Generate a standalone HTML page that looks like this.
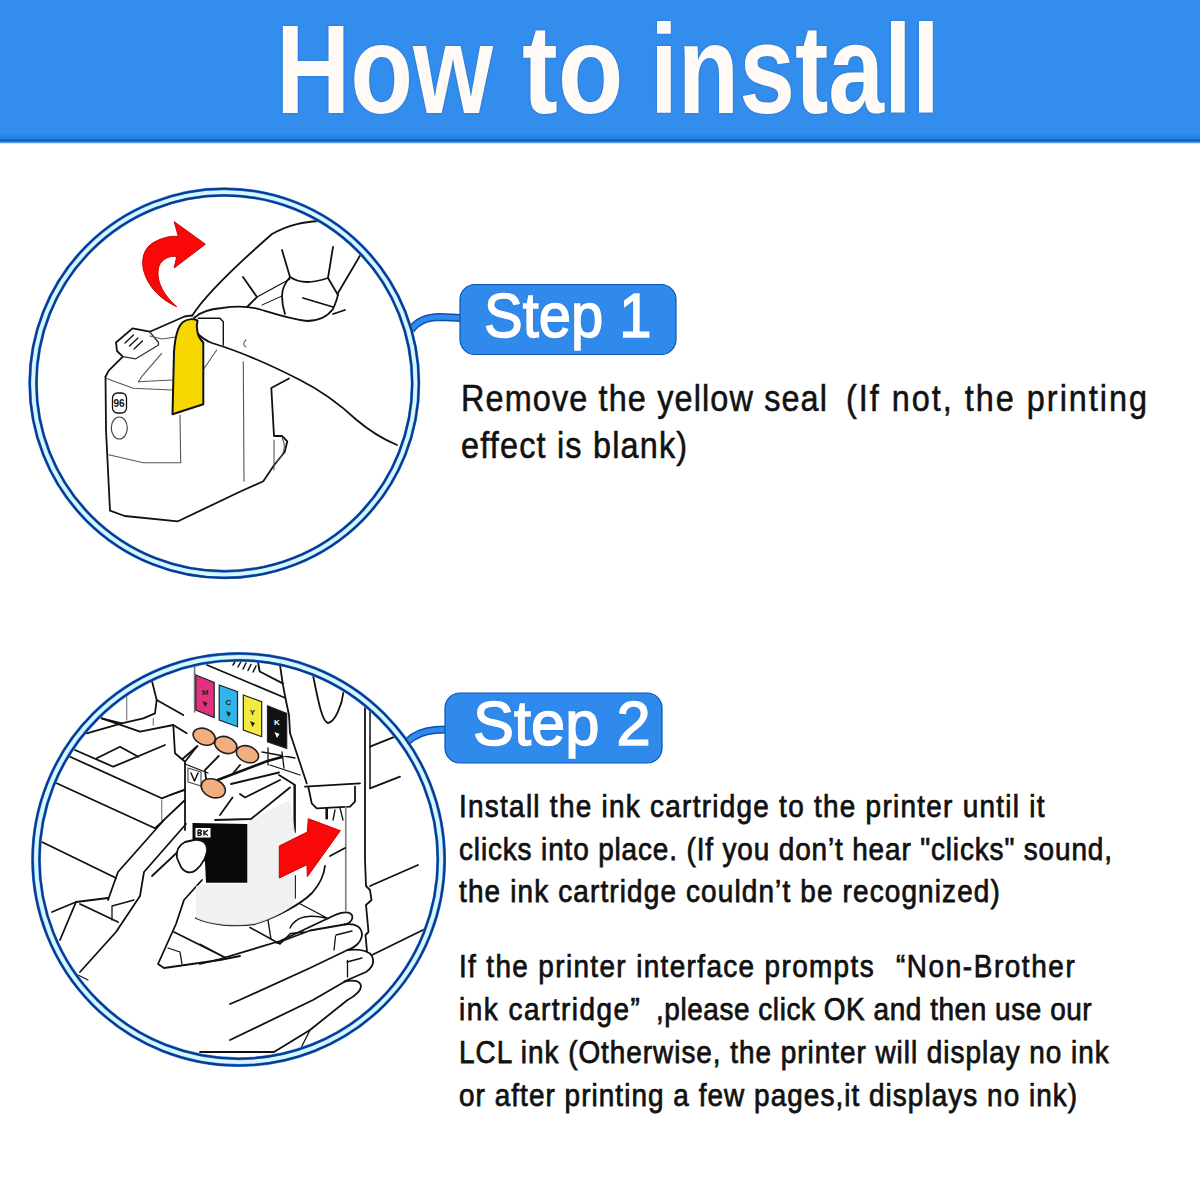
<!DOCTYPE html>
<html><head><meta charset="utf-8">
<style>
html,body{margin:0;padding:0;background:#fff;}
body{width:1200px;height:1200px;position:relative;overflow:hidden;font-family:"Liberation Sans",sans-serif;}
.hdr{position:absolute;left:0;top:0;width:1200px;height:144px;background:linear-gradient(to bottom,#338dec 0px,#338dec 133px,#2686ea 136px,#2282e6 138.5px,#0a62bc 140px,#0a62bc 141px,#5aa4ee 142.5px,#c8e6fc 143.5px,#fff 144px);}
.t{position:absolute;white-space:pre;line-height:normal;transform-origin:0 0;}
.title{color:#fffaf5;font-weight:bold;font-size:126px;text-shadow:0 0 2px rgba(10,70,160,0.6);}
.badge{color:#fff;font-weight:normal;font-size:63px;-webkit-text-stroke:1.6px #fff;text-shadow:0 0 1.5px #0a3f9a,0 0 1px #0a3f9a;}
.p1{color:#111;font-size:36px;-webkit-text-stroke:0.55px #111;}
.p2{color:#111;font-size:31px;-webkit-text-stroke:0.75px #111;}
svg{position:absolute;left:0;top:0;}
</style></head>
<body>
<div class="hdr"></div>
<svg width="1200" height="1200" viewBox="0 0 1200 1200">
  <!-- connectors -->
  <path d="M411,330 C418,320 428,317 440,317 L462,318" fill="none" stroke="#0b4fb0" stroke-width="8"/>
  <path d="M411,330 C418,320 428,317 440,317 L462,318" fill="none" stroke="#2f8aec" stroke-width="5"/>
  <path d="M407,742 C414,735 424,731 435,730 L447,729.5" fill="none" stroke="#0b4fb0" stroke-width="8"/>
  <path d="M407,742 C414,735 424,731 435,730 L447,729.5" fill="none" stroke="#2f8aec" stroke-width="5"/>
  <!-- badges -->
  <rect x="460" y="284.5" width="216" height="70" rx="15" fill="#2f8aec" stroke="#0b54b8" stroke-width="1.2"/>
  <rect x="445" y="693" width="217" height="70" rx="15" fill="#2f8aec" stroke="#0b54b8" stroke-width="1.2"/>
  <defs><clipPath id="c1"><circle cx="224.3" cy="383.3" r="188"/></clipPath><clipPath id="c2"><circle cx="238.6" cy="859.5" r="199.2"/></clipPath></defs>
  <g clip-path="url(#c1)">
  <!-- illustration 1 -->
  <g fill="none" stroke="#111" stroke-width="1.8" stroke-linejoin="round" stroke-linecap="round">
    <!-- hand top outline -->
    <path d="M192,316 C205,295 240,262 272,234 C290,224 305,222 319,221"/>
    <!-- finger lower outline -->
    <path d="M194,318 C200,312 210,309 222,308 C235,306 250,306 262,310 C275,314 290,319 307,321 C318,321 327,317 333,309 C337,300 338,296 338,293 L361,254"/>
    <!-- knuckle -->
    <path d="M282,250 L290,277 C296,281 302,282 307,282 C316,282 322,280 328,278 L333,247"/>
    <path d="M328,278 L338,295"/>
    <path d="M290,277 C284,284 282,290 282,296 C282,303 283,308 285,314"/>
    <path d="M303,298 L333,307"/>
    <path d="M333,314 L345,310"/>
    <path d="M243,277 L257,297 L247,307"/>
    <path d="M257,297 L290,279" stroke-width="1.2"/>
    <path d="M262,305 L282,296" stroke-width="1"/>
    <!-- cartridge top -->
    <path d="M105.4,377 L108.7,370.7 L122.8,356.6 L117,351 L116,342.5 L132.5,328.4 L149.8,331.7 L184.5,316.5 L192,315.4"/>
    <path d="M105.5,377 L106,430 L110,510.7 L124.7,516 L178,521.3 L239.3,492 L263.3,481.3 L274,465.3 L284.7,452 L287.3,441.3 L282,436 L274,436 L271.3,388 L289,378.5"/>
    <!-- hand lower line -->
    <path d="M197,333 C202,338 206,341 212,343 C235,350 265,362 300,380 C318,389 335,400 356.7,420 C372,433 385,440 397,445"/>
    <!-- latch -->
    <path d="M149.8,332 L158.5,342.5 L158.5,345 L135.8,358.8 L122.8,356.6" stroke-width="1.3" stroke="#333"/>
    <path d="M125,343 L133.5,335 M129.5,346 L138,338 M134,349 L142.5,341" stroke-width="1.3"/>
    <!-- top right small rect -->
    <path d="M198.3,318.3 L220,318.3 L223.3,321.7 L223.3,345" stroke-width="1.4"/>
    <!-- thin inner lines -->
    <g stroke="#555" stroke-width="1.1">
      <path d="M149.8,336 L162,339 L175.8,337"/>
      <path d="M161.7,353.3 L141.7,376.7 L138.3,381.7 L172,380"/>
      <path d="M203,370 L216.7,350"/>
      <path d="M105.8,378.3 L133.3,388.3 L172,390"/>
      <path d="M180,415 L180.7,462.7 M108.7,454.7 L143.3,462.7 L180.7,462.7"/>
      <path d="M243.3,361.7 L244,481.3"/>
      <path d="M246,340 C243,342 243,346 246,347"/>
      <path d="M274,440 L274,470 M282,438 C286,445 285,455 276,462"/>
    </g>
    <!-- labels -->
    <rect x="112.5" y="393" width="14" height="20" rx="5" stroke-width="1.3"/>
    <text x="113.5" y="407" font-family="Liberation Sans" font-size="10" font-weight="bold" fill="#111" stroke="none">96</text>
    <ellipse cx="119.3" cy="428" rx="8" ry="11" stroke-width="1.2" stroke="#444"/>
  </g>
  <!-- yellow seal -->
  <path d="M174,352 C175,337 177,327 183,322 C187,319 193,318.5 197.5,320.5 C195.5,328 197.5,337 203.3,342.5 L203.3,404.2 L172.5,414.2 Z" fill="#f8d600" stroke="#111" stroke-width="2" stroke-linejoin="round"/>
  <!-- red arrow 1 -->
  <path d="M174.2,221.7 L205.4,244.2 L174.2,267.9 L176.7,256.7 C170,255 162,259 159,266 C156,276 159,291 176.7,306.7 C162,300 148,288 143.5,270 C140.5,256 146,246 155,241.7 C164,237 171,236 178.3,236.25 Z" fill="#f80808" stroke="#c00" stroke-width="1"/>
  </g>
  <!-- circle 1 -->
  <circle cx="224.3" cy="383.3" r="191.2" fill="none" stroke="#d8f6ff" stroke-width="5"/>
  <circle cx="224.3" cy="383.3" r="194.6" fill="none" stroke="#3d8de6" stroke-width="2.9"/>
  <circle cx="224.3" cy="383.3" r="187.9" fill="none" stroke="#3d8de6" stroke-width="2.9"/>
  <circle cx="224.3" cy="383.3" r="194.6" fill="none" stroke="#0a3a8c" stroke-width="2.1"/>
  <circle cx="224.3" cy="383.3" r="187.9" fill="none" stroke="#0a3a8c" stroke-width="2.1"/>
  <g clip-path="url(#c2)">
  <!-- illustration 2 -->
  <g fill="none" stroke="#111" stroke-width="1.8" stroke-linejoin="round" stroke-linecap="round">
    <!-- printer top area -->
    <path d="M207,665 L285.4,698"/>
    <path d="M259.7,671.5 L282.7,683.4 M258,662 L259.7,671.5"/>
    <path d="M233,665 L236,660 M238,667 L241,661.5 M243,669 L246,663 M248,670.5 L251,664.5 M253,672 L256,666" stroke-width="1.5"/>
    <path d="M194.6,665 L194.6,712" stroke="#777" stroke-width="1.6"/>
    <path d="M280,665 L282.7,683.4 L285.4,698 L289,715 L290,733 L306.7,783.3"/>
    <path d="M313.3,676.7 C318,700 322,722 328,723 C335,722 342,705 343.3,693"/>
    <!-- left structure -->
    <path d="M151.7,680 L156.7,700 L183.3,715"/>
    <path d="M156.7,700 L155,713.3 L143.3,718.3 L121.7,723.3 L101.7,718.3"/>
    <path d="M101.7,718.3 L140,731.7 L173.3,725 L186.7,733.3"/>
    <path d="M121.7,723.3 L86.7,733.3"/>
    <path d="M126.7,696.7 L126.7,720 M153.3,718.3 L153.3,725" stroke="#888" stroke-width="1.3"/>
    <path d="M173.3,725 L175,753.3 L185,761.7 L196.7,746.7"/>
    <path d="M75,750 L113.3,766.7 L165,745"/>
    <path d="M96.7,758.3 L120,746.7 L138.3,756.7"/>
    <path d="M70,756.7 L161.7,798.3 L183.3,790"/>
    <path d="M56.7,783.3 L155,828.3 L185,800"/>
    <path d="M161.7,800 L161.7,821.7" stroke="#888" stroke-width="1.3"/>
    <path d="M185,761.7 L185,830"/>
    <path d="M185,764 L208,773" stroke-width="1.3"/>
    <!-- under pads lines -->
    <path d="M197.5,746 L182.5,759"/>
    <path d="M218.75,756 L205,770 L206,779"/>
    <path d="M240,765 L232.5,774"/>
    <path d="M217.5,780 L267.5,761 L282,757" stroke-width="2.6"/>
    <path d="M231,784 L279,772.5"/>
    <path d="M240,794 L245,797.5 L280,780"/>
    <path d="M215,820 L251,819 L290,787.5"/>
    <path d="M220,815 L232.5,797.5"/>
    <path d="M279,775 L295,785 L295,832"/>
    <path d="M268,748 L268,765 M282,752 L284,768 M262,752 L295,758 M270,765 L300,775" stroke-width="1.3"/>
    <path d="M191,773 L194.5,781 L198,773" stroke-width="1.5"/><path d="M188,768 L201,772 L201,786 L188,782 Z" stroke-width="1.1" stroke="#444"/>
    <path d="M185,790 L170,795" />
    <!-- cartridge -->
    <path d="M295,876 L295,898"/>
    <path d="M196,918 C210,925 235,927 255,924 C275,918 300,905 312,893 C320,884 324,875 325,866"/>
    <!-- right structure -->
    <path d="M305,786.7 L360,783.3"/>
    <path d="M308.3,786.7 L311.7,803.3 L316.7,808.3 L350,806.7 L355,801.7 L355,786.7"/>
    <path d="M326.7,808.3 L326.7,818.3" stroke-width="2.6"/>
    <path d="M335,810 L333,820 M340,808 L343,820" stroke-width="1.3"/>
    <path d="M294.2,785 L294.2,830" stroke-width="1.5"/>
    <path d="M345.8,806.7 L345.8,910" stroke="#888" stroke-width="1.8"/>
    <path d="M365,708 L365,860 L366,886 L370,890 L371.5,900 L366,905 L368.5,932 L365.5,935 L367,951.5"/>
    <path d="M370,708 L370,788.3" stroke-width="1.5"/>
    <path d="M370,746.7 L395,736.7"/>
    <path d="M370,788.3 L400,776.7"/>
    <path d="M370,886 L418,865"/>
    <path d="M373,954.5 L425,929"/>
    <path d="M330,856 L345,848"/>
    <!-- hand & thumb -->
    <path d="M42,842 L116,878"/>
    <path d="M186,824 L144,872 L140,896 L116,932 L80,972"/>
    <path d="M164,820 L118,872 L108,900"/>
    <path d="M52,912 L76,902 L108,898"/>
    <path d="M76,902 L60,940"/>
    <path d="M80,904 L118,922"/>
    <path d="M112,906 L134,900 M112,906 L112,920" stroke-width="1.3"/>
    <path d="M184,846 L152,876"/>
    <path d="M202,880 L184,900 L176,924 L158,964 L164,968 L220,960 L240,956"/>
    <path d="M174,932 L226,958"/>
    <path d="M168,948 L180,952 L182,964" stroke-width="1.3"/>
    <path d="M60,978 L80,985 M72,972 L88,980" stroke-width="1.1"/>
    <!-- fingers -->
    <path d="M200,964 L220,959 L280,941 L334,915.5 C346,910 354,912 352,919 C351,922 347,924 344.5,924.5"/>
    <path d="M277,943 L310,930.5 L344.5,924.5 C356,923 362,927 362,935 C361,943 354,948 347.5,950 L310,968 L239.5,1000 L230,1004"/>
    <path d="M347.5,950 C358,949 368,950 372,956 C375,963 372,968 366,972 L347.5,980 L313,1000 L230,1040"/>
    <path d="M344.5,981.5 C352,980 360,980 361,986 C361,991 355,996 347.5,1000 L310,1030 L274,1052 L200,1052"/>
    <path d="M250,927.5 L280,944 M280,944 L290.5,933.5 L304,932" stroke-width="1.6"/>
    <path d="M290,928 C296,916 310,914 328,918.5 M268,920 L271,939.5 M299.5,903.5 L328,918.5" stroke-width="1.4"/>
    <path d="M335.5,936.5 L334,950 M336,935 L352,931 M347.5,960.5 L347.5,977 M347,962 L362,958" stroke-width="1.3"/>
    <path d="M200,944 L226,958" stroke-width="1.3"/>
    <path d="M310,1030 L300,1050" stroke-width="1.3"/>
  </g>
  <!-- color slots -->
  <g stroke="#222" stroke-width="1.2">
    <path d="M195.8,675 L214.2,682.5 L214.2,717.5 L195.8,710 Z" fill="#e2327f"/>
    <path d="M219.2,685 L237.5,691.7 L237.5,726.7 L219.2,720 Z" fill="#2fb5e9"/>
    <path d="M243.3,695 L261.7,701.7 L261.7,736.7 L243.3,730 Z" fill="#f3ec3e"/>
    <path d="M267.5,705.8 L286.7,713.3 L286.7,748.3 L267.5,741.7 Z" fill="#111"/>
  </g>
  <g font-family="Liberation Sans" font-weight="bold" font-size="8" text-anchor="middle">
    <text x="205" y="695" fill="#222">M</text>
    <text x="228.4" y="704.5" fill="#222">C</text>
    <text x="252.5" y="714.5" fill="#222">Y</text>
    <text x="277" y="725" fill="#fff">K</text>
  </g>
  <g stroke="none">
    <path d="M202.5,701 L207.5,703 L205,707 Z" fill="#222"/>
    <path d="M226,711 L231,713 L228.5,717 Z" fill="#222"/>
    <path d="M250,721 L255,723 L252.5,727 Z" fill="#222"/>
    <path d="M274.5,732 L279.5,734 L277,738 Z" fill="#fff"/>
  </g>
  <!-- pads -->
  <g fill="#f2ae7e" stroke="#222" stroke-width="1.6">
    <ellipse cx="204.2" cy="736.7" rx="11.5" ry="8" transform="rotate(22 204.2 736.7)"/>
    <ellipse cx="225.8" cy="745" rx="11.5" ry="8" transform="rotate(22 225.8 745)"/>
    <ellipse cx="247.5" cy="754.2" rx="11.5" ry="8" transform="rotate(22 247.5 754.2)"/>
    <ellipse cx="213.3" cy="788.3" rx="12.5" ry="9" transform="rotate(22 213.3 788.3)"/>
  </g>
  <!-- black label -->
  <path d="M192.5,823 L247.5,824 L247.5,882.7 L206,882.7 L205,862 L192.5,846 Z" fill="#080808"/>
  <rect x="195" y="827.5" width="16" height="10.5" fill="#fff" stroke="#111" stroke-width="1"/>
  <path d="M198,830 L198,835.5 M198,830 L200.5,830 C202,831 202,832.5 198,832.8 C202.5,833 202.5,835.5 198,835.5 M204,830 L204,835.5 M208,830 L204,833 L208,835.5" fill="none" stroke="#111" stroke-width="1.3"/>
  <!-- thumb nail tip -->
  <path d="M177,858 C176,851 179,845 185,842 L194,840 C201,839.5 206,842 207,848 C207.5,855 203,864 196,870 C191,874 185,873 181,867 Z" fill="#fff" stroke="#111" stroke-width="1.8" stroke-linejoin="round"/>
  <!-- cartridge white body shading -->
  <path d="M205,884 L247.5,884 L247.5,822 L290,800 L295,832 L295,898 C300,905 275,918 255,924 C235,927 210,925 196,918 L196,886 Z" fill="#eceef0" stroke="none" opacity="0.85"/>
  <!-- red arrow 2 -->
  <path d="M279.3,846 L307.3,832 L308.3,818.7 L340.3,830.7 L307.3,876.7 L307,864.7 L279.3,878 Z" fill="#f80808" stroke="#c00" stroke-width="1"/>
  </g>
  <!-- circle 2 -->
  <circle cx="238.6" cy="859.5" r="202.6" fill="none" stroke="#d8f6ff" stroke-width="5"/>
  <circle cx="238.6" cy="859.5" r="206" fill="none" stroke="#3d8de6" stroke-width="2.9"/>
  <circle cx="238.6" cy="859.5" r="199.2" fill="none" stroke="#3d8de6" stroke-width="2.9"/>
  <circle cx="238.6" cy="859.5" r="206" fill="none" stroke="#0a3a8c" stroke-width="2.1"/>
  <circle cx="238.6" cy="859.5" r="199.2" fill="none" stroke="#0a3a8c" stroke-width="2.1"/>
</svg>
<div class="t title" id="tw1" style="left:275.5px;top:-3.5px;transform:scaleX(0.816);">How</div>
<div class="t title" id="tw2" style="left:522.1px;top:-3.5px;transform:scaleX(0.854);">to</div>
<div class="t title" id="tw3" style="left:649.6px;top:-3.5px;transform:scaleX(0.796);">install</div>
<div class="t badge" id="b1" style="left:484px;top:278.5px;transform:scaleX(0.92);">Step 1</div>
<div class="t badge" id="b2" style="left:473px;top:687px;transform:scaleX(0.975);">Step 2</div>
<div class="t p1" id="l1" style="left:461px;top:377.5px;letter-spacing:1.26px;transform:scaleX(0.9);">Remove the yellow seal</div>
<div class="t p1" id="l1b" style="left:846px;top:377.5px;letter-spacing:2.22px;transform:scaleX(0.9);">(If not, the printing</div>
<div class="t p1" id="l2" style="left:461px;top:425px;letter-spacing:1.32px;transform:scaleX(0.9);">effect is blank)</div>
<div class="t p2" id="m1" style="left:459px;top:789px;letter-spacing:1.42px;transform:scaleX(0.9);">Install the ink cartridge to the printer until it</div>
<div class="t p2" id="m2" style="left:459px;top:831.75px;letter-spacing:0.97px;transform:scaleX(0.9);">clicks into place. (If you don’t hear "clicks" sound,</div>
<div class="t p2" id="m3" style="left:459px;top:874.2px;letter-spacing:1.28px;transform:scaleX(0.9);">the ink cartridge couldn’t be recognized)</div>
<div class="t p2" id="n1" style="left:459px;top:948.9px;letter-spacing:1.52px;transform:scaleX(0.9);">If the printer interface prompts</div>
<div class="t p2" id="n1b" style="left:896px;top:948.9px;letter-spacing:1.76px;transform:scaleX(0.9);">“Non-Brother</div>
<div class="t p2" id="n2" style="left:459px;top:991.5px;letter-spacing:1.68px;transform:scaleX(0.9);">ink cartridge”</div>
<div class="t p2" id="n2b" style="left:656px;top:991.5px;letter-spacing:0.64px;transform:scaleX(0.9);">,please click OK and then use our</div>
<div class="t p2" id="n3" style="left:459px;top:1034.5px;letter-spacing:1.09px;transform:scaleX(0.9);">LCL ink (Otherwise, the printer will display no ink</div>
<div class="t p2" id="n4" style="left:459px;top:1077.5px;letter-spacing:1.17px;transform:scaleX(0.9);">or after printing a few pages,it displays no ink)</div>
</body></html>
